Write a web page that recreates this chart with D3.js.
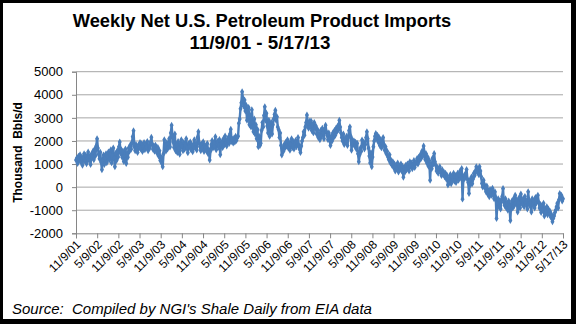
<!DOCTYPE html>
<html><head><meta charset="utf-8">
<script src="https://cdn.jsdelivr.net/npm/d3@7"></script>
<style>html,body{margin:0;padding:0;background:#fff}svg{display:block}</style>
</head><body>
<script>
const titleLine1 = "Weekly Net U.S. Petroleum Product Imports";
const titleLine2 = "11/9/01 - 5/17/13";
const yAxisTitle = "Thousand  Bbls/d";
const sourceText = "Source:  Compiled by NGI's Shale Daily from EIA data";
const yTicks = [-2000, -1000, 0, 1000, 2000, 3000, 4000, 5000];
const xLabels = ["11/9/01","5/9/02","11/9/02","5/9/03","11/9/03","5/9/04","11/9/04","5/9/05","11/9/05","5/9/06","11/9/06","5/9/07","11/9/07","5/9/08","11/9/08","5/9/09","11/9/09","5/9/10","11/9/10","5/9/11","11/9/11","5/9/12","11/9/12","5/17/13"];
// weekly net imports, thousand bbl/d
const imports = [
1170,1250,1020,1340,1180,1400,1090,1260,950,1310,1450,1120,1380,1010,1240,1520,1160,1330,980,1420,
1280,1550,1190,1640,1360,1780,2100,1690,1420,1230,1510,1080,750,1150,1390,980,1260,1450,1060,1320,
1520,1180,1410,1620,1050,1350,1700,1240,880,1460,1150,1580,1300,1750,1960,1480,1620,1290,1550,1110,
1380,1650,1020,1470,1290,1700,1550,1830,1640,1920,2180,2440,1760,1580,1850,1690,1500,1820,1710,1930,
1650,1880,1540,1760,1930,1620,1850,1720,1980,1580,1800,1690,1940,2160,1870,1640,1780,1550,1820,1690,
1480,1720,1350,1580,1150,1300,1020,880,1450,2050,1780,1560,1920,1650,1880,2100,1740,2350,2680,2240,
1960,1720,2300,1580,1850,1500,1980,1690,1420,1870,2050,1760,1580,1930,1640,1820,2100,1710,1490,1880,
1750,1960,1620,1840,1530,1780,2050,1690,1880,1610,2150,2400,1920,1750,1580,1860,1690,1970,1540,1820,
1710,1560,1890,1450,1620,1170,1580,1840,2020,1690,1910,1750,2180,1620,1880,1990,1730,2060,1400,1850,
1960,1720,2100,1840,2220,1900,1780,2050,2150,1890,2300,2510,1980,2080,1910,2120,1950,2200,2020,2150,
2200,2770,2950,3400,3650,4130,3850,3500,3770,3300,3550,2900,3250,3450,2700,3100,2600,3350,2850,2400,
2950,2300,2700,2100,2500,1750,2200,1800,1900,2450,2800,2600,3100,3480,2900,3200,2650,2350,2900,2200,
2500,2800,2300,2700,2950,3150,3330,2900,3050,2600,2500,2150,2350,1800,1390,1650,1550,1850,1700,1950,
1780,2050,1690,1920,1600,1850,2100,1720,1980,1650,1880,2020,1750,1900,2150,1800,1640,1500,1780,2000,
2150,2400,2250,2600,2800,3120,2750,2550,2850,2600,2870,2450,2700,2350,2800,2550,2650,2300,2500,2150,
2300,2050,2450,2200,2550,2350,2100,2500,2680,2400,2250,2050,2350,2100,1800,2200,2000,2350,2150,2450,
2250,2550,2400,2650,2500,2900,2600,2350,2150,2000,2300,1850,2100,1950,2200,1800,2150,2450,2610,2200,
1600,2050,1850,2000,1780,1950,1650,1900,1450,1100,1400,1700,1550,2040,1800,1950,1650,1850,2150,2400,
2100,1700,1350,1050,1500,880,1300,1750,2000,2200,2320,2100,2250,1950,2150,1800,2050,1700,1900,2150,
1850,1600,1750,1450,1550,1300,1200,1400,1050,1150,950,1100,850,1000,700,950,800,1050,650,900,
780,1000,700,900,430,850,650,950,750,1000,850,700,1100,900,1050,800,950,1150,850,1000,
1100,1240,1000,1300,1150,1400,1250,1550,1350,1780,1500,1200,1450,1050,1300,900,1150,300,1000,800,
1250,1000,1460,1100,950,700,850,600,800,880,700,500,750,550,650,450,600,350,500,90,
350,200,550,150,450,300,600,250,500,200,450,600,300,550,700,400,810,-520,300,500,
400,600,765,350,200,-280,300,100,440,150,350,600,500,700,880,650,800,550,880,700,
450,160,0,300,100,-50,-200,50,-300,-150,-420,-100,-250,-350,-50,-300,-500,-200,-450,-1360,
-700,-500,-850,-600,-950,-550,-400,-60,-650,-800,-500,-900,-700,-1000,-600,-850,-1450,-750,-600,-900,
-500,-800,-350,-700,-550,-1080,-650,-450,-900,-300,-600,-750,-500,-850,-400,-700,-600,-950,-200,-550,
-800,-650,-1080,-500,-750,-600,-900,-450,-700,-550,-350,-650,-900,-750,-1100,-800,-1000,-700,-1250,-950,
-1100,-850,-1200,-950,-1150,-1050,-1300,-1200,-1500,-1350,-1250,-1100,-1000,-860,-700,-900,-550,-280,-450,-350,-600,-500
];

const W = 576, H = 324;
const plot = {left: 76, right: 563, top: 71.7, bottom: 233.3};
const font = "'Liberation Sans', Arial, sans-serif";

const svg = d3.select("body").append("svg").attr("width", W).attr("height", H);
svg.append("rect").attr("width", W).attr("height", H).attr("fill", "#000");
svg.append("rect").attr("x", 3).attr("y", 3).attr("width", 568).attr("height", 316).attr("fill", "#fff");

const x = d3.scaleLinear().domain([0, imports.length - 1]).range([plot.left, plot.right]);
const y = d3.scaleLinear().domain([-2000, 5000]).range([plot.bottom, plot.top]);
const xl = d3.scalePoint().domain(xLabels).range([plot.left, plot.right]);

// gridlines
svg.append("g").selectAll("line").data(yTicks.filter(d => d > -2000)).join("line")
  .attr("x1", plot.left).attr("x2", plot.right)
  .attr("y1", d => y(d)).attr("y2", d => y(d))
  .attr("stroke", "#a6a6a6").attr("stroke-width", 1);

// y axis
const ya = svg.append("g").attr("transform", `translate(${plot.left},0)`)
  .call(d3.axisLeft(y).tickValues(yTicks).tickSize(4).tickPadding(9).tickFormat(d => String(d)));
ya.select(".domain").attr("stroke", "#868686");
ya.selectAll(".tick line").attr("stroke", "#868686");
ya.selectAll("text").attr("font-family", font).attr("font-size", 13).attr("fill", "#000");

// x axis
const xa = svg.append("g").attr("transform", `translate(0,${plot.bottom})`)
  .call(d3.axisBottom(xl).tickSize(5).tickPadding(0));
xa.select(".domain").attr("stroke", "#868686");
xa.selectAll(".tick line").attr("stroke", "#868686");
xa.selectAll("text")
  .attr("font-family", font).attr("font-size", 12).attr("fill", "#000")
  .attr("text-anchor", "end").attr("dy", null).attr("y", 0)
  .attr("transform", "translate(5,12) rotate(-45)");

// series
const line = d3.line().x((d, i) => x(i)).y(d => y(d));
svg.append("path").datum(imports).attr("d", line)
  .attr("fill", "none").attr("stroke", "#4a7ebb").attr("stroke-width", 2.4).attr("stroke-linejoin", "round");
const sym = d3.symbol().type(d3.symbolDiamond).size(14);
svg.append("g").selectAll("path").data(imports).join("path")
  .attr("transform", (d, i) => `translate(${x(i)},${y(d)})`)
  .attr("d", sym).attr("fill", "#4a7ebb");

// titles
svg.append("text").attr("x", 262).attr("y", 27).attr("text-anchor", "middle")
  .attr("font-family", font).attr("font-weight", "bold").attr("font-size", 18.3).text(titleLine1);
svg.append("text").attr("x", 260).attr("y", 48.5).attr("text-anchor", "middle")
  .attr("font-family", font).attr("font-weight", "bold").attr("font-size", 18.8).text(titleLine2);
svg.append("text").attr("transform", `translate(22,${(plot.top + plot.bottom) / 2}) rotate(-90)`)
  .attr("text-anchor", "middle").attr("font-family", font).attr("font-weight", "bold")
  .attr("font-size", 12).attr("xml:space", "preserve").style("white-space", "pre").text(yAxisTitle);
svg.append("text").attr("x", 12).attr("y", 314)
  .attr("font-family", font).attr("font-style", "italic").attr("font-size", 15)
  .style("white-space", "pre").text(sourceText);
</script>
</body></html>
